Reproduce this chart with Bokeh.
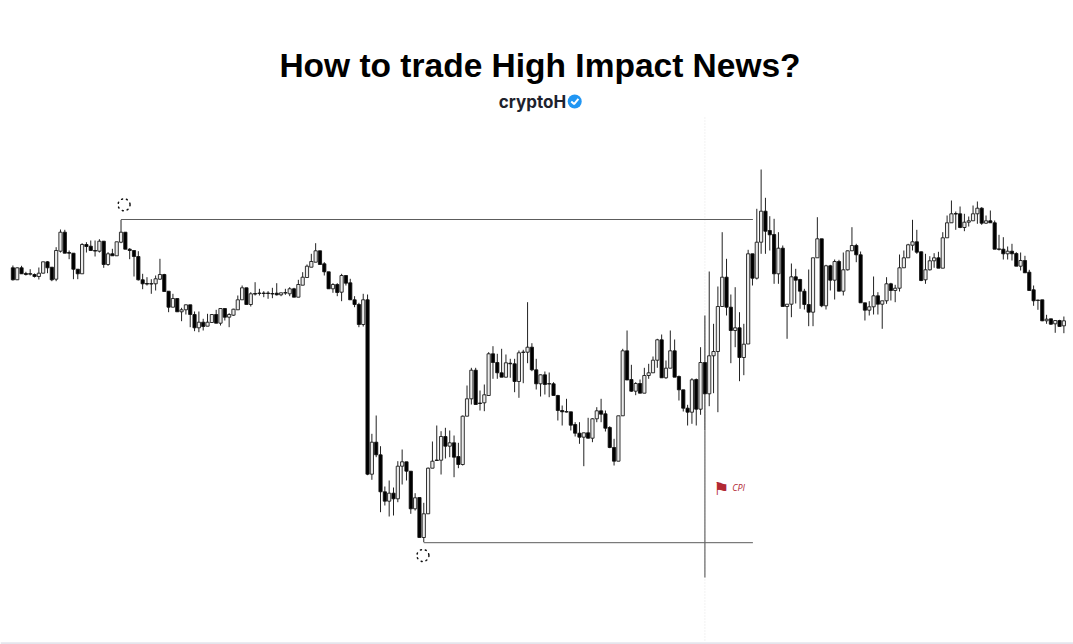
from bokeh.plotting import figure
from bokeh.models import Range1d, Label, ColumnDataSource
from bokeh.core.properties import value
from bokeh.embed import file_html
from bokeh.resources import INLINE

open_ = [372.7,360.7,372.7,367,366.2,366,364,367.3,378.7,373.3,361.3,389.3,408.3,388,387.3,371.3,366.7,396,394.3,390,
389.3,399.3,376,386.7,384.7,398.3,408.3,391.3,390,384,360.7,357,356.4,356.7,361.3,366,349.3,333.3,342,328.7,
330.7,335.7,326,312.7,318.3,314.3,318,326,317.3,332,323.3,325.3,330.7,340.7,352.7,336,347,347,347.5,347.5,
347,347.3,345.7,347.4,346.7,351.7,343.3,355.3,363,373.3,378.3,389.7,376.7,368.7,351.7,356,348.3,365,357.7,340.7,
336,316,340.7,166.3,198.3,185.7,148.7,139.3,147.3,141.7,174.3,178.7,169.3,131.7,143,103,126.7,172.3,180.5,180.3,
204,194.3,197.7,184,176,224.3,241.7,270.3,237.5,237.7,245,286.7,278,267.7,263.3,277.3,276.7,259,288,288.3,
293.3,270.7,256.7,265.7,256.4,256.7,245,230,228.4,228.7,216,207.3,203.3,207.7,202.3,221.7,229.7,226.7,213,193,
179.3,224.7,289.7,261,249.3,257,247.3,265,267.7,280.3,300.7,262.7,272.3,289.7,264,250.7,232.3,228.3,261,231.3,
278,246.7,284.7,289,334,363.3,333.3,310,312.7,283,296.5,386.7,362.3,398.3,429.3,410,406,366.7,392.3,334,
336.3,363.7,361,349.3,336,328.3,382.7,401.7,334.7,374.7,360.3,379,349.3,370.7,389.7,395,385.7,337.7,330.3,333.7,
344.7,336.3,339.7,356.7,350,352.3,372.7,382.7,395.3,398.7,388.7,360.7,370.7,379.7,382.7,372.3,402.7,417.7,427,426.7,
413,418.3,419.7,426.7,432.3,417.3,419.7,417.7,391,391.3,386.7,389.3,387,374.3,380,368.3,350.7,340,340.7,319.7,
321.7,316.7,320,314.7]

close = [360.7,372.7,366.7,366,367,364,367.3,378.7,372.7,360.7,390,408.3,387.3,387.3,371.3,366.7,396,394,390,389.4,
399.3,376,386.7,384.7,398.7,408.3,391.3,390,384,360.7,356.7,356.4,357,361.7,366,349,333.3,342,328.7,330.7,
335.7,326,312.7,318.3,314,318.3,326,317.3,332,323.3,326,331.3,340.7,352.7,336,346.7,346.4,347.5,347,347,
346.5,345.7,347.7,348,351.7,343.3,356,363.3,374.3,379,389.7,376,368.7,351.7,356,348,365,357.3,340.7,336,
316,340.7,166.3,198.3,185.7,148.7,139.3,147.3,141.7,174.3,178.7,169.3,131.7,142.7,103,126.7,172.3,179.3,180,204,
194.3,197.7,183.3,176,224.3,241.7,270.3,236,237,245.7,286.7,278,267.7,263.3,277.7,276.7,259,287.7,288.5,293.3,
270.7,256.7,265.7,256,257,245,230,228.7,229,215.3,207.3,203.3,207.7,202.3,221.7,229.7,226.3,212.3,193,179.3,
224.7,289.7,260.5,249.3,257,247.3,265,267.7,280.3,300.7,262.7,272.3,289.7,263.3,250.7,232.3,228.3,260.7,231.3,278,
246.7,284.7,289,334,363.3,333.3,310,312.7,283,296.3,386.7,362.3,398.3,429.3,409.3,405.7,366.7,392.3,334,336.3,
363.7,360.3,349.3,336,328.3,382.7,401.7,334.7,374.7,360.3,379,349.3,370.7,389.7,395,385.7,337.7,330.3,333.7,344.7,
336.3,339.7,356.7,350,352.3,372.7,382.7,395.7,398.7,388.3,360,370.7,379.7,382.7,372.3,402.7,417.7,426.7,426.4,413,
418.3,419.7,426.7,432.3,417.3,419.7,417.7,391.3,391.7,386.7,389.3,386.7,374.3,380,367.7,350,339.7,340.5,319.7,321.3,
316.3,320,314,319.7]

high = [375,373,374.7,368.7,371.3,367,373,378.7,379.3,373.3,393.3,411,410.7,390,387.3,371.3,397.3,398.3,400,400,
401.3,399.3,388.3,391.7,398.7,420.7,408.3,392.3,390,389.3,366.7,363.3,361.3,365,381.7,366.7,349.3,346.7,342,332.7,
336,335.7,329,329,321.7,326.7,326.5,330.7,332,332,327.3,331.7,345,355,352.7,348.3,358.3,351.7,349.3,349.3,
352.7,357.3,347.7,351.7,353.3,352.7,360.7,368.3,376,386.7,397.3,389.7,378.3,368.7,357.3,357.3,366.7,365,361.7,344.3,
337.7,346.7,346,206.7,225,194.3,154,160,153,179.3,191,178.7,169.3,147.3,143,137.7,173,199,215,209.3,
212.7,210,205,197.7,225,255,272.7,272.7,250,256,288.3,294.3,286.7,291.7,286,281.7,281.7,290,290.7,338.3,
297.3,281.7,266,269,268,258.3,245.7,235,241.7,228.7,218.3,218.3,207.7,222.7,222.3,233.3,241.7,230,214.3,201.7,
224.7,291.7,310,275.7,258.3,261,272.7,276.7,284,301.7,306,280,310,301,265,250.7,235.7,262.3,262,293.3,
325,369,316.7,354,408.3,381.7,346,353.3,328.3,316.7,390.7,386.7,431.7,471,442.7,424.3,421.7,408.3,395,336.3,
377,371.7,361.7,351.7,371,382.7,423.3,401.7,375.7,375.7,381,380.7,388,390,413.3,396.7,389,337.7,339.3,364,
348.3,339.7,363.3,357.7,355.7,386,390,396.7,420.7,410.7,389,386.7,384.3,387.3,388.7,408.3,425,440,429,434,
426.7,424,435,439,433.3,425,430,420,405.7,403.3,394,396.7,388.3,388,384.7,370.7,355,340.7,340.7,325.7,
321.7,320,320.7,324]

low = [360,360.5,366.5,365,365,363,361,367.3,367.3,359.3,359.3,388,387.3,381.3,361.3,361.3,366.7,388,390,384,
388,372.7,374.7,384.7,384.7,397.3,391.3,381.3,364,360,351.3,355,346.7,350,360.7,349,328.3,333.3,328.7,319.3,
326,313.3,309.3,308.3,310,314.3,318,317.3,315,320,313.3,324.7,330.7,340.7,336,334,345,345,343.3,341.7,
342.3,345,344.3,345.7,344.3,343.3,343.3,355.3,363,373.3,378.3,376,365,351.7,347.7,344.3,339.3,355,340.7,333.3,
313.3,314,165.3,160.7,183.3,128.3,135,124,125,138.3,156,160,126.7,130,103,98.3,126.7,172.3,179.5,166,
182,183.3,163.3,172.3,175,224.3,236,236,230,229.3,245,261.7,261.7,263.3,263.3,262.7,248.3,242.7,257.3,277.3,
269.3,251,244,246,243.3,245,220,215,228,210,204,196.7,174.3,202,198.3,218.3,218.3,209,192.3,175,
179.3,224.7,260.5,248.7,245.3,247.3,247.3,261.7,267.7,272.7,262.7,261.7,272.3,263.3,240,229,215,216.7,215,225.7,
210,234.3,247.3,228.3,334,325,277.3,293.3,259.3,265.3,296.5,355,361,386.7,386.7,390,356.7,356.7,334,301.7,
323.3,337,331.7,331,314.3,314.3,382.7,333.3,331,350,341,349.3,345,370,389.7,378.3,337.7,320,325,326,
326,311.7,336.7,340,338.3,349,372.7,382.7,390,386.7,359.3,356.7,370,372.7,372.3,372.3,402.7,417.7,410.7,412.3,
409.3,414,419.7,416.7,415.7,416.7,417.7,391.3,390,381,381,380,374.3,370,367.7,350,334.7,330.7,319.3,316.7,
315.7,307.7,314,307.3]

CPI_LABEL = "CPI"
TITLE = "How to trade High Impact News?"
AUTHOR = "cryptoH"

# level annotations: (first candle, last candle, price)
top_level = (25, 171.1, 421.0)
bottom_level = (95, 171.1, 97.8)
event_candle = 160
event_low = 63.0

idx = list(range(len(open_)))
up = [c >= o for o, c in zip(open_, close)]
data = ColumnDataSource(dict(
    x=idx, high=high, low=low,
    top=[max(o, c) for o, c in zip(open_, close)],
    bot=[min(o, c) for o, c in zip(open_, close)],
    fill=["#ececec" if u else "#000000" for u in up],
))

W, H = 1073, 644
PX = 4.325
x0, x1 = -12.4 / PX, (W - 12.4) / PX
p = figure(width=W, height=H, output_backend="svg", toolbar_location=None,
           x_range=Range1d(x0, x1), y_range=Range1d(-4, 640),
           min_border=0, outline_line_color=None)
p.axis.visible = False
p.grid.visible = False
p.background_fill_color = "#ffffff"
p.border_fill_color = "#ffffff"

# page footer strip
p.quad(left=[x0], right=[x1], top=[-1.7], bottom=[-4], fill_color="#e4e5ec", line_color=None)

# faint dotted event line
p.segment([event_candle], [0], [event_candle], [525], line_color="#e3e3e3", line_width=1, line_dash="1 2")

p.segment("x", "high", "x", "low", source=data, line_color="#222222", line_width=1)
p.vbar("x", width=3.2 / PX, top="top", bottom="bot", source=data,
       fill_color="fill", line_color="#111111", line_width=0.85)

for lv in (top_level, bottom_level):
    p.segment([lv[0]], [lv[2]], [lv[1]], [lv[2]], line_color="#5c5c5c", line_width=1)
p.segment([event_candle], [low[event_candle]], [event_candle], [event_low], line_color="#666666", line_width=1.2)

# dotted circles above the high and under the low
p.scatter([25.7, 94.8], [435.7, 85], marker="circle", size=12, fill_color=None,
          line_color="#111111", line_width=1.5, line_dash="1 4", line_cap="round")

# CPI flag
p.text([161.9], [152.5], text=["\u2691"], text_font=value("DejaVu Sans"), text_font_size="18px",
       text_color="#b22833", text_align="left", text_baseline="middle")
p.text([166.3], [153], text=[CPI_LABEL], text_font=value("Open Sans"), text_font_style="italic",
       text_font_size="9px", text_color="#b22833", text_align="left", text_baseline="middle")

# badge
bx, by = 129.9, 539.0
p.scatter([bx], [by], marker="circle", size=14, fill_color="#2196f3", line_color=None)
p.line([bx - 0.8, bx - 0.15, bx + 0.85], [by, by - 2.6, by + 2.6], line_color="#ffffff", line_width=2)

p.add_layout(Label(x=539.5, y=H - 64.5, x_units="screen", y_units="screen", text=TITLE, text_align="center",
                   text_baseline="middle", text_font="Liberation Sans", text_font_style="bold",
                   text_font_size="33.5px", text_color="#000000"))
p.add_layout(Label(x=532, y=H - 101, x_units="screen", y_units="screen", text=AUTHOR, text_align="center",
                   text_baseline="middle", text_font="Inter", text_font_style="bold",
                   text_font_size="17px", text_color="#1e222d"))

open("out.html", "w").write(file_html(p, INLINE))
